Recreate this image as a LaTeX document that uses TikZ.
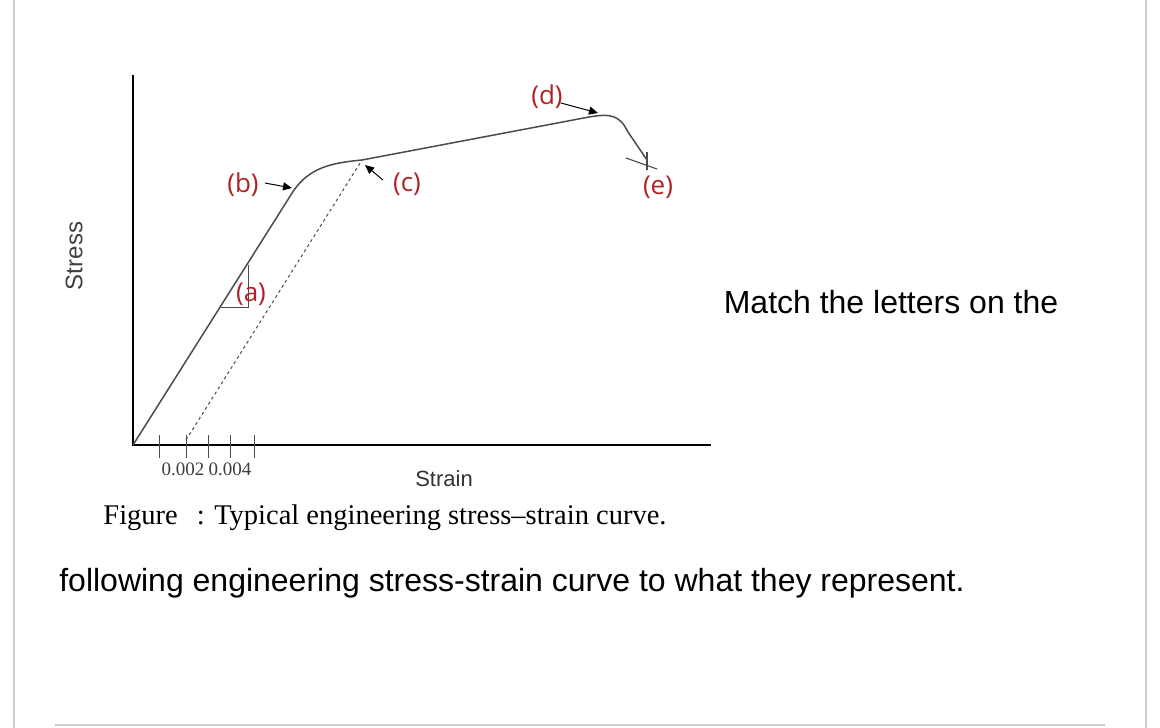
\documentclass[tikz,border=0pt]{standalone}
\usepackage{fontspec}
\setmainfont{Liberation Serif}
\setsansfont{Liberation Sans}
\newfontfamily\lblfont{Open Sans}
\usetikzlibrary{arrows.meta}
\definecolor{lred}{RGB}{175,35,40}
\definecolor{frame}{RGB}{205,205,205}
\begin{document}
\begin{tikzpicture}[x=1pt,y=-1pt,
  curve/.style={draw=black!70,line width=1.5pt},
  lbl/.style={text=lred,font=\lblfont\fontsize{26}{26}\selectfont,inner sep=0pt},
  ptr/.style={-{Triangle[length=9pt,width=8pt]},line width=1pt},
  sans/.style={font=\sffamily\fontsize{32}{32}\selectfont,inner sep=0pt}]
\useasboundingbox (0,0) rectangle (1160,728);
\fill[white] (0,0) rectangle (1160,728);
\draw[frame,line width=1.2pt] (14,0) -- (14,728);
\draw[frame,line width=1.2pt] (1146,0) -- (1146,728);
\draw[frame,line width=1.2pt] (55,725) -- (1105,725);
% axes
\coordinate (O) at (133,445);
\coordinate (ytop) at (133,75);
\coordinate (xend) at (711,445);
\draw[line width=2.4pt] (ytop) -- (O) -- (xend);
% ticks
\foreach \x in {159,186,208,230,254}{\draw[black!70,line width=1pt] (\x,435) -- (\x,458);}
\node[font=\fontsize{19}{19}\selectfont,text=black!75] (t2) at (183,469) {0.002};
\node[font=\fontsize{19}{19}\selectfont,text=black!75] (t4) at (230,469) {0.004};
% curve
\coordinate (B) at (294,190);
\coordinate (C) at (362,160);
\coordinate (D1) at (589,117);
\coordinate (E) at (647,160);
\draw[curve] (O) -- (B) .. controls (310,168) and (330,163) .. (C) -- (D1)
  .. controls (612,113) and (620,116) .. (628,132) -- (E);
\draw[curve,line width=1.1pt] (626,158) -- (657,169);
\draw[curve,line width=1.1pt] (647,152) -- (647,170);
\draw[black!70,line width=1pt,dashed] (186,440) -- (C);
% triangle
\draw[black!70,line width=1pt] (221,307) -- (248,307) -- (248,265);
% labels
\node[lbl] (la) at (251,294) {(a)};
\node[lbl] (lb) at (243,185) {(b)};
\node[lbl] (lc) at (407,184) {(c)};
\node[lbl] (ld) at (547,97) {(d)};
\node[lbl] (le) at (658,187) {(e)};
\coordinate (pb) at (292,188);
\coordinate (pc) at (365,165);
\coordinate (pd) at (598,113);
\draw[ptr] (lb.east)++(6,-2) -- (pb);
\draw[ptr] (lc.west)++(-10,-4) -- (pc);
\draw[ptr] (ld.east)++(-2,6) -- (pd);
\node[sans,font=\sffamily\fontsize{24}{24}\selectfont,text=black!75,rotate=90] (stress) at (74,256) {Stress};
\node[sans,font=\sffamily\fontsize{22}{22}\selectfont,text=black!80] (strain) at (444,479) {Strain};
\node[font=\fontsize{28.5}{28.5}\selectfont,inner sep=0pt] (cap) at (385,518) {Figure \ \,: Typical engineering stress--strain curve.};
\node[sans] (m1) at (891,302) {Match the letters on the};
\node[sans] (m2) at (512,583) {following engineering stress-strain curve to what they represent.};
\end{tikzpicture}
\end{document}
